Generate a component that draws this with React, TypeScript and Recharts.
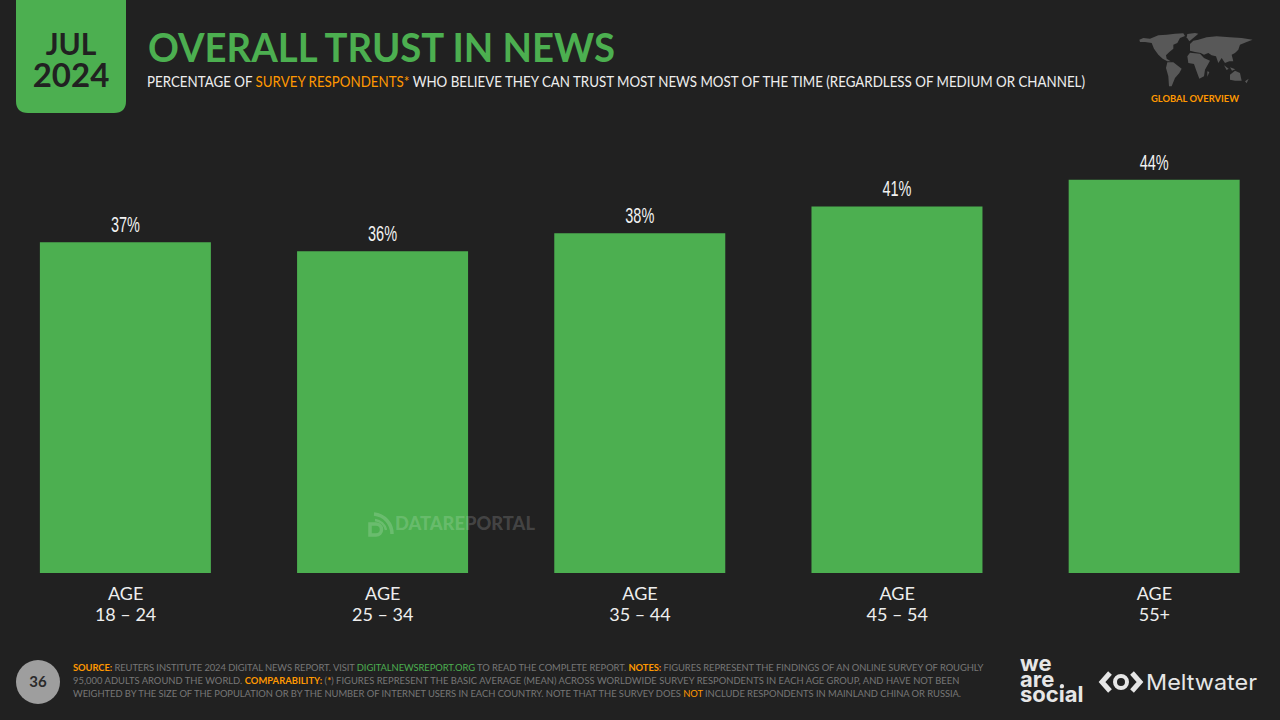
import React from 'react';
import { BarChart, Bar, XAxis, YAxis, LabelList } from 'recharts';

const ageGroups = ['18 – 24', '25 – 34', '35 – 44', '45 – 54', '55+'];
const trustValues = [37, 36, 38, 41, 44];
const valueLabels = ['37%', '36%', '38%', '41%', '44%'];

const GREEN = '#4CAF50';
const ORANGE = '#FF9800';
const BG = '#212121';
const FOOT = '#777777';
const FONT = 'Lato, sans-serif';

const chartData = ageGroups.map((age, i) => ({ age, trust: trustValues[i], label: valueLabels[i] }));

const footerLines = [
  { y: 671, spacing: -0.075, parts: [['SOURCE:', ORANGE, 700], [' REUTERS INSTITUTE 2024 DIGITAL NEWS REPORT. VISIT ', FOOT, 400], ['DIGITALNEWSREPORT.ORG', GREEN, 400], [' TO READ THE COMPLETE REPORT. ', FOOT, 400], ['NOTES:', ORANGE, 700], [' FIGURES REPRESENT THE FINDINGS OF AN ONLINE SURVEY OF ROUGHLY', FOOT, 400]] },
  { y: 684, spacing: 0.02, parts: [['95,000 ADULTS AROUND THE WORLD. ', FOOT, 400], ['COMPARABILITY:', ORANGE, 700], [' (', FOOT, 400], ['*', ORANGE, 700], [') FIGURES REPRESENT THE BASIC AVERAGE (MEAN) ACROSS WORLDWIDE SURVEY RESPONDENTS IN EACH AGE GROUP, AND HAVE NOT BEEN', FOOT, 400]] },
  { y: 697, spacing: -0.045, parts: [['WEIGHTED BY THE SIZE OF THE POPULATION OR BY THE NUMBER OF INTERNET USERS IN EACH COUNTRY. NOTE THAT THE SURVEY DOES ', FOOT, 400], ['NOT', ORANGE, 400], [' INCLUDE RESPONDENTS IN MAINLAND CHINA OR RUSSIA.', FOOT, 400]] },
];

const AgeTick = ({ x, y, payload }: any) => (
  <g fill="#EEEEEE" fontFamily={FONT} fontSize={18} textAnchor="middle">
    <text x={x} y={y + 19}>AGE</text>
    <text x={x} y={y + 40}>{payload.value}</text>
  </g>
);

const ValueLabel = ({ x, y, width, value }: any) => (
  <text x={x + width / 2} y={y - 10} fill="#F2F2F2" fontFamily="'Liberation Sans', sans-serif" fontSize={22} textAnchor="middle" textLength={29} lengthAdjust="spacingAndGlyphs">
    {value}
  </text>
);

const WorldMap = () => (
  <g fill="#585858" transform="translate(1130,28) scale(0.3333)">
    <path d="M28 35 L40 30 L60 32 L85 22 L110 20 L135 17 L160 16 L165 24 L150 30 L142 45 L130 50 L130 62 L118 72 L108 82 L110 92 L122 100 L112 100 L98 92 L85 80 L72 62 L65 45 L45 42 L30 42 Z" />
    <path d="M172 18 L195 15 L205 17 L190 30 L178 40 L170 28 Z" />
    <path d="M112 103 L130 103 L155 122 L148 135 L135 150 L125 175 L117 175 L115 145 L108 120 Z" />
    <path d="M180 48 L190 38 L205 35 L230 28 L260 25 L300 28 L335 30 L368 35 L350 42 L330 50 L325 65 L315 75 L305 80 L310 100 L298 100 L285 105 L275 90 L265 105 L258 85 L245 82 L235 75 L222 80 L212 75 L195 72 L180 68 Z" />
    <path d="M172 85 L180 74 L210 77 L222 90 L240 98 L225 125 L222 145 L208 152 L198 125 L192 108 L175 105 Z" />
    <path d="M300 140 L315 128 L330 135 L335 158 L315 158 L300 155 Z" />
    <path d="M282 112 L296 122 L290 126 Z" />
    <path d="M300 118 L316 124 L306 128 Z" />
    <path d="M232 130 L238 132 L232 146 Z" />
    <path d="M345 160 L356 152 L350 166 Z" />
  </g>
);

const App = () => (
  <div style={{ position: 'fixed', left: 0, top: 0, width: 1280, height: 720, background: BG, overflow: 'hidden' }}>
    <div style={{ position: 'absolute', left: -3, top: 0 }}>
      <BarChart width={1286} height={720} data={chartData} margin={{ top: 126, right: 0, bottom: 0, left: 0 }} barCategoryGap="16.67%">
        <XAxis dataKey="age" axisLine={false} tickLine={false} tick={<AgeTick />} interval={0} height={147} />
        <YAxis domain={[0, 50]} hide />
        <Bar dataKey="trust" fill={GREEN} isAnimationActive={false}>
          <LabelList dataKey="label" content={<ValueLabel />} />
        </Bar>
      </BarChart>
    </div>

    <svg width={1280} height={720} style={{ position: 'absolute', left: 0, top: 0 }}>
      {/* date badge */}
      <path d="M16 0 H126 V101 Q126 113 114 113 H28 Q16 113 16 101 Z" fill={GREEN} />
      <text fill={BG} fontFamily={FONT} fontWeight={700} textAnchor="middle">
        <tspan x={71} y={55} fontSize={30}>JUL</tspan>
        <tspan x={71} y={87} fontSize={33}>2024</tspan>
      </text>

      {/* title */}
      <text x={148} y={62} fill={GREEN} fontFamily={FONT} fontWeight={700} fontSize={40} textLength={467} lengthAdjust="spacingAndGlyphs">OVERALL TRUST IN NEWS</text>
      <text x={147} y={87} fill="#EEEEEE" fontFamily={FONT} fontSize={14.5} textLength={938} lengthAdjust="spacingAndGlyphs">
        PERCENTAGE OF <tspan fill={ORANGE}>SURVEY RESPONDENTS*</tspan> WHO BELIEVE THEY CAN TRUST MOST NEWS MOST OF THE TIME (REGARDLESS OF MEDIUM OR CHANNEL)
      </text>

      <WorldMap />
      <text x={1195} y={102} fill={ORANGE} fontFamily={FONT} fontWeight={700} fontSize={9} textAnchor="middle" textLength={88} lengthAdjust="spacingAndGlyphs">GLOBAL OVERVIEW</text>

      {/* watermark */}
      <g fill="none" stroke="#FFFFFF" strokeWidth={3.5} opacity={0.17}>
        <path d="M374 514 A 20 20 0 0 1 392 534" />
        <path d="M375 520 A 13 13 0 0 1 386 530" strokeWidth={2.5} />
        <path d="M370 524 h6 a5.5 5.5 0 0 1 0 11 h-6 z" />
      </g>
      <text x={395} y={530} fill="#FFFFFF" fillOpacity={0.17} fontFamily={FONT} fontWeight={900} fontSize={19.5} textLength={140} lengthAdjust="spacingAndGlyphs">DATAREPORTAL</text>

      {/* footer */}
      <circle cx={38} cy={682} r={22} fill="#9E9E9E" />
      <text x={38} y={687} fill="#2B2B2B" fontFamily={FONT} fontWeight={700} fontSize={15} textAnchor="middle">36</text>
      {footerLines.map((line) => (
        <text key={line.y} x={73} y={line.y} fontFamily={FONT} fontSize={9.4} letterSpacing={line.spacing}>
          {line.parts.map((p, i) => (
            <tspan key={i} fill={p[1] as string} fontWeight={p[2] as number}>{p[0]}</tspan>
          ))}
        </text>
      ))}

      {/* logos */}
      <text fill="#E6E6E6" fontFamily="Inter, sans-serif" fontWeight={700} fontSize={22}>
        <tspan x={1020} y={671}>we</tspan>
        <tspan x={1020} y={687}>are</tspan>
        <tspan x={1020} y={702}>social</tspan>
      </text>
      <circle cx={1062} cy={686} r={2} fill="#E6E6E6" />
      <g fill="none" stroke="#E6E6E6" strokeWidth={5}>
        <path d="M1110 673 L1102 682 L1110 691" />
        <path d="M1132 673 L1140 682 L1132 691" />
        <circle cx={1121} cy={682} r={6} strokeWidth={4} />
      </g>
      <text x={1146} y={690} fill="#E6E6E6" fontFamily="Inter, sans-serif" fontWeight={400} fontSize={22} textLength={111} lengthAdjust="spacingAndGlyphs">Meltwater</text>
    </svg>
  </div>
);

export default App;
